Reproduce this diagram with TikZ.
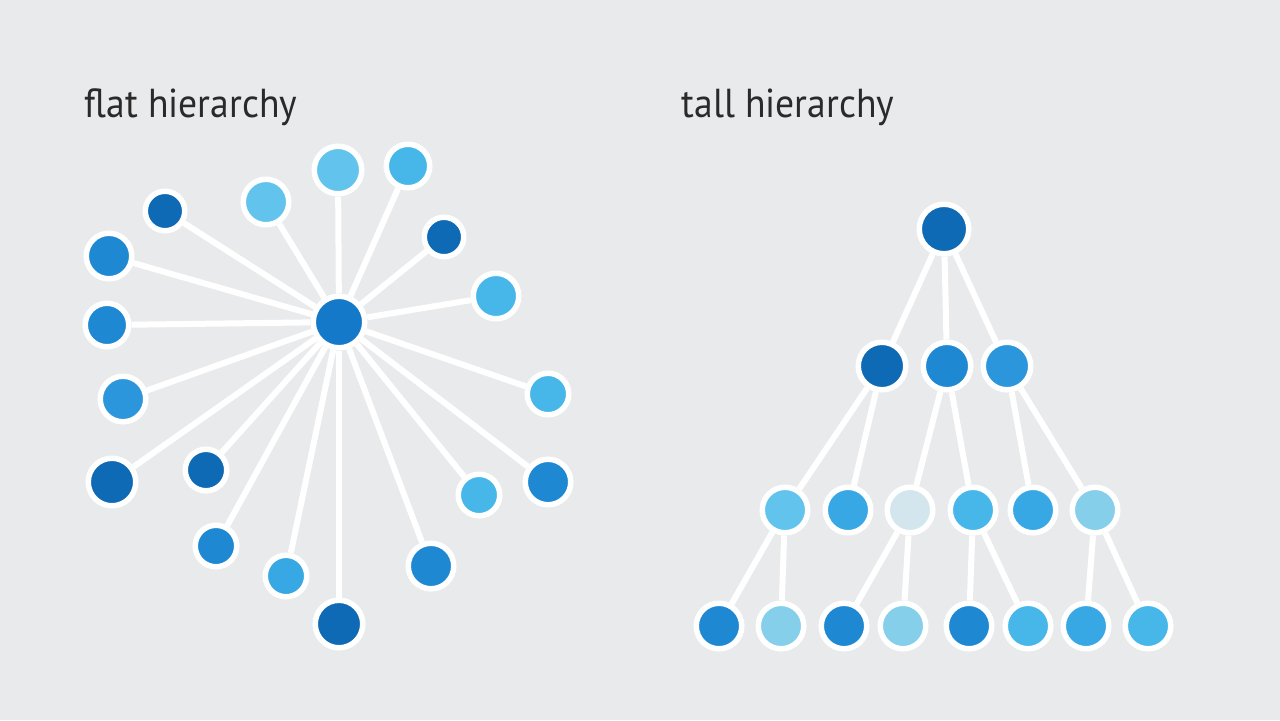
\documentclass[tikz,border=0pt]{standalone}
\usepackage{fontspec}
\setmainfont{PT Sans}[FakeStretch=0.93]
\usepackage{xcolor}
\usetikzlibrary{backgrounds}

\definecolor{bggray}{HTML}{E9EAEB}
\definecolor{inkgray}{HTML}{2A2A2A}
\definecolor{dkblue}{HTML}{0E6AB5}
\definecolor{hubblue}{HTML}{1479C8}
\definecolor{midblue}{HTML}{1F88D3}
\definecolor{blue}{HTML}{2B96DB}
\definecolor{skyblue}{HTML}{38A8E4}
\definecolor{ltblue}{HTML}{47B7EA}
\definecolor{paleblue}{HTML}{62C4EC}
\definecolor{mistblue}{HTML}{85CFEA}
\definecolor{frost}{HTML}{D3E6EE}

\begin{document}
\begin{tikzpicture}[x=0.01cm, y=-0.01cm,
		dot/.style 2 args = {circle, inner sep=0pt, fill=#1, draw=white,
			line width=0.055cm, minimum size=#2*0.02cm+0.055cm},
		edge/.style = {white, line width=0.06cm},
		title/.style = {anchor=base west, inner sep=0pt, inkgray, font=\fontsize{11.5pt}{14pt}\selectfont}]
	% flat hierarchy
	\node [title] (flatlabel) at (84,117) {flat hierarchy};
	\node [dot={hubblue}{23}] (hub) at (339,322) {};
	\foreach \i/\x/\y/\r/\c in {1/165/211/17/dkblue, 2/266/202/20/paleblue, 3/338/170/21/paleblue,
		4/408/166/19/ltblue, 5/444/237/17/dkblue, 6/496/296/20/ltblue,
		7/109/256/20/midblue, 8/107/325/19/midblue, 9/123/399/20/blue,
		10/112/482/21/dkblue, 11/206/470/18/dkblue, 12/216/546/18/midblue,
		13/286/576/18/skyblue, 14/339/624/21/dkblue, 15/431/566/20/midblue,
		16/479/495/18/ltblue, 17/548/482/20/midblue, 18/548/394/18/ltblue}
	{
		\node [dot={\c}{\r}] (f\i) at (\x,\y) {};
	}

	% tall hierarchy
	\node [title] (talllabel) at (681,117) {tall hierarchy};
	\node [dot={dkblue}{22}] (root) at (944,229) {};
	\foreach \i/\x/\c in {1/882/dkblue, 2/947/midblue, 3/1007/blue}
	{
		\node [dot={\c}{21}] (t2\i) at (\x,366) {};
	}
	\foreach \i/\x/\c in {1/785/paleblue, 2/848/skyblue, 3/910/frost,
		4/973/ltblue, 5/1033/skyblue, 6/1095/mistblue}
	{
		\node [dot={\c}{20}] (t3\i) at (\x,510) {};
	}
	\foreach \i/\x/\c in {1/719/midblue, 2/781/mistblue, 3/844/midblue, 4/903/mistblue,
		5/969/midblue, 6/1028/ltblue, 7/1086/skyblue, 8/1148/ltblue}
	{
		\node [dot={\c}{20}] (t4\i) at (\x,626) {};
	}

	\begin{scope}[on background layer]
		\fill [bggray] (0,0) rectangle (1280,720);
		\foreach \i in {1,...,18}
		{
			\draw [edge] (hub) -- (f\i);
		}
		\foreach \a/\b in {root/t21, root/t22, root/t23,
			t21/t31, t21/t32, t22/t33, t22/t34, t23/t35, t23/t36,
			t31/t41, t31/t42, t33/t43, t33/t44, t34/t45, t34/t46, t36/t47, t36/t48}
		{
			\draw [edge] (\a) -- (\b);
		}
	\end{scope}
\end{tikzpicture}
\end{document}
